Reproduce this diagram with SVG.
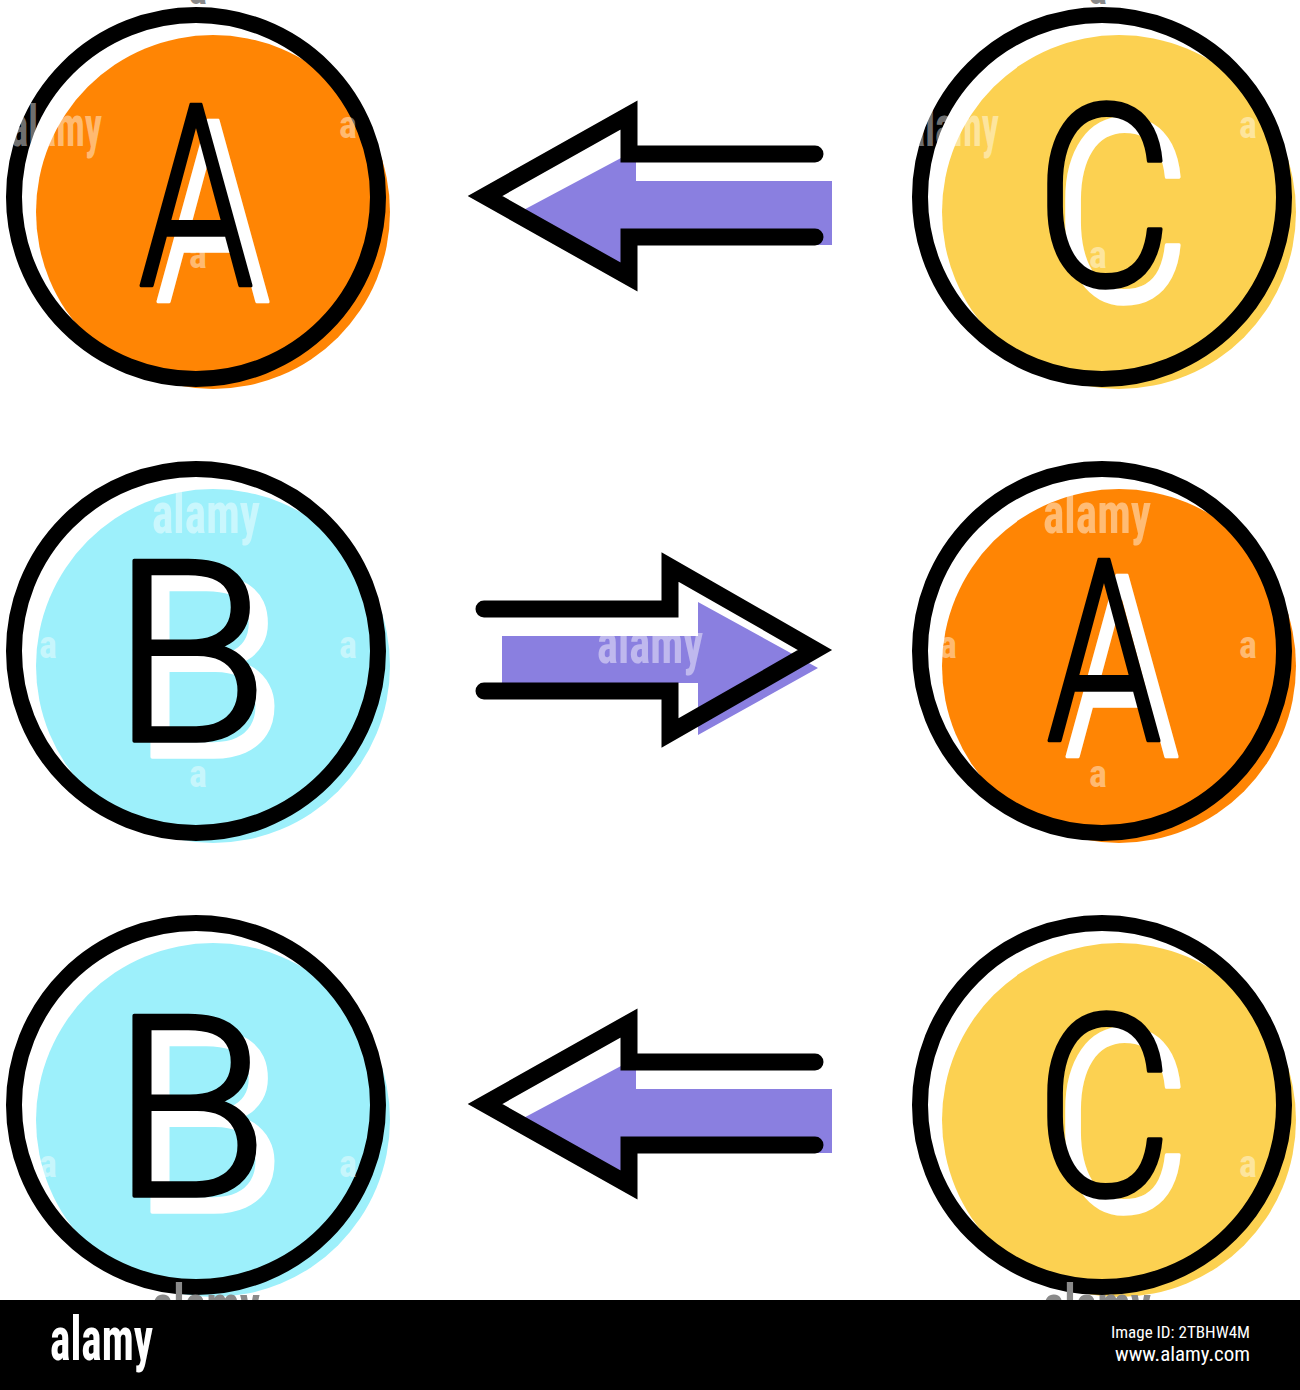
<svg xmlns="http://www.w3.org/2000/svg" width="1300" height="1390" viewBox="0 0 1300 1390">
<style>
.ring{fill:none;stroke:#000;stroke-width:16}
.or{fill:#FF8504}
.ye{fill:#FCD151}
.cy{fill:#9DF0FB}
.let{font-family:Roboto,"Open Sans","Liberation Sans",sans-serif;font-weight:300;font-size:254px;text-anchor:middle;stroke-width:3.5;stroke-linejoin:round}
.blk{fill:#000;stroke:#000}
.wht{fill:#fff;stroke:#fff}
.arr{fill:none;stroke:#000;stroke-width:17;stroke-linecap:round;stroke-linejoin:miter}
.pur{fill:#8A7FE0}
.wm{font-family:"Liberation Sans Narrow","Roboto Condensed","DejaVu Sans Condensed","Liberation Sans",sans-serif;font-weight:bold;fill:#fff;fill-opacity:0.45;text-anchor:middle}
.wmg{fill:#8a8a8a;fill-opacity:1}
.big{font-size:58px}
.sm{font-size:38px}
.ft{font-family:"Liberation Sans Narrow","Roboto Condensed","DejaVu Sans Condensed","Liberation Sans",sans-serif;fill:#fff}
</style>
<rect width="1300" height="1390" fill="#fff"/>

<g id="node-a-top">
  <circle class="or" cx="213" cy="212" r="177"/>
  <circle class="ring" cx="196" cy="197" r="182"/>
  <text class="let wht" x="213" y="302" textLength="116" lengthAdjust="spacingAndGlyphs">A</text>
  <text class="let blk" x="196" y="286" textLength="116" lengthAdjust="spacingAndGlyphs">A</text>
</g>
<g id="node-c-top">
  <circle class="ye" cx="1119" cy="212" r="177"/>
  <circle class="ring" cx="1102" cy="197" r="182"/>
  <text class="let wht" x="1122" y="302" textLength="138" lengthAdjust="spacingAndGlyphs">C</text>
  <text class="let blk" x="1104" y="286" textLength="138" lengthAdjust="spacingAndGlyphs">C</text>
</g>
<g id="node-b-mid">
  <circle class="cy" cx="213" cy="666" r="177"/>
  <circle class="ring" cx="196" cy="651" r="182"/>
  <text class="let wht" x="208" y="757" textLength="158" lengthAdjust="spacingAndGlyphs">B</text>
  <text class="let blk" x="190" y="741" textLength="158" lengthAdjust="spacingAndGlyphs">B</text>
</g>
<g id="node-a-mid">
  <circle class="or" cx="1119" cy="666" r="177"/>
  <circle class="ring" cx="1102" cy="651" r="182"/>
  <text class="let wht" x="1122" y="757" textLength="116" lengthAdjust="spacingAndGlyphs">A</text>
  <text class="let blk" x="1104" y="741" textLength="116" lengthAdjust="spacingAndGlyphs">A</text>
</g>
<g id="node-b-bot">
  <circle class="cy" cx="213" cy="1120" r="177"/>
  <circle class="ring" cx="196" cy="1105" r="182"/>
  <text class="let wht" x="208" y="1212" textLength="158" lengthAdjust="spacingAndGlyphs">B</text>
  <text class="let blk" x="190" y="1196" textLength="158" lengthAdjust="spacingAndGlyphs">B</text>
</g>
<g id="node-c-bot">
  <circle class="ye" cx="1119" cy="1120" r="177"/>
  <circle class="ring" cx="1102" cy="1105" r="182"/>
  <text class="let wht" x="1122" y="1212" textLength="138" lengthAdjust="spacingAndGlyphs">C</text>
  <text class="let blk" x="1104" y="1196" textLength="138" lengthAdjust="spacingAndGlyphs">C</text>
</g>

<g id="connectors">
  <g id="arrow-c-to-a">
    <path class="pur" d="M832,181 H636 V150 L516,214 L629,277 V245 H832 Z"/>
    <path class="arr" d="M815,154 H629 V115 L485,196 L629,277 V237 H815"/>
  </g>
  <g id="arrow-b-to-a">
    <path class="pur" d="M502,636 H698 V602 L818,668 L698,735 V683 H502 Z"/>
    <path class="arr" d="M484,609 H670 V567 L815,650 L670,733 V691 H484"/>
  </g>
  <g id="arrow-c-to-b" transform="translate(0,908)">
    <path class="pur" d="M832,181 H636 V150 L516,214 L629,277 V245 H832 Z"/>
    <path class="arr" d="M815,154 H629 V115 L485,196 L629,277 V237 H815"/>
  </g>
</g>

<g id="watermark">
  <text class="wm big" x="56" y="146" textLength="92" lengthAdjust="spacingAndGlyphs">alamy</text>
  <text class="wm big" x="953" y="146" textLength="92" lengthAdjust="spacingAndGlyphs">alamy</text>
  <text class="wm big" x="206" y="533" textLength="108" lengthAdjust="spacingAndGlyphs">alamy</text>
  <text class="wm big" x="1097" y="533" textLength="108" lengthAdjust="spacingAndGlyphs">alamy</text>
  <text class="wm big" x="650" y="663" textLength="106" lengthAdjust="spacingAndGlyphs">alamy</text>
  <text class="wm wmg big" x="206" y="1325" textLength="108" lengthAdjust="spacingAndGlyphs">alamy</text>
  <text class="wm wmg big" x="1097" y="1325" textLength="108" lengthAdjust="spacingAndGlyphs">alamy</text>
  <text class="wm wmg sm" x="198" y="4">a</text>
  <text class="wm wmg sm" x="1098" y="4">a</text>
  <text class="wm sm" x="348" y="138">a</text>
  <text class="wm sm" x="198" y="268">a</text>
  <text class="wm sm" x="1248" y="138">a</text>
  <text class="wm sm" x="1098" y="268">a</text>
  <text class="wm sm" x="48" y="658">a</text>
  <text class="wm sm" x="348" y="658">a</text>
  <text class="wm sm" x="198" y="787">a</text>
  <text class="wm sm" x="948" y="658">a</text>
  <text class="wm sm" x="1248" y="658">a</text>
  <text class="wm sm" x="1098" y="787">a</text>
  <text class="wm sm" x="48" y="1177">a</text>
  <text class="wm sm" x="348" y="1177">a</text>
  <text class="wm sm" x="1248" y="1177">a</text>
</g>

<g id="footer">
  <rect x="0" y="1300" width="1300" height="90" fill="#000"/>
  <text class="ft" x="50" y="1360" font-size="62" font-weight="bold" textLength="103" lengthAdjust="spacingAndGlyphs">alamy</text>
  <text class="ft" x="1250" y="1338" font-size="16" text-anchor="end" textLength="139" lengthAdjust="spacingAndGlyphs">Image ID: 2TBHW4M</text>
  <text class="ft" x="1250" y="1361" font-size="20" text-anchor="end" textLength="135" lengthAdjust="spacingAndGlyphs">www.alamy.com</text>
</g>
</svg>
